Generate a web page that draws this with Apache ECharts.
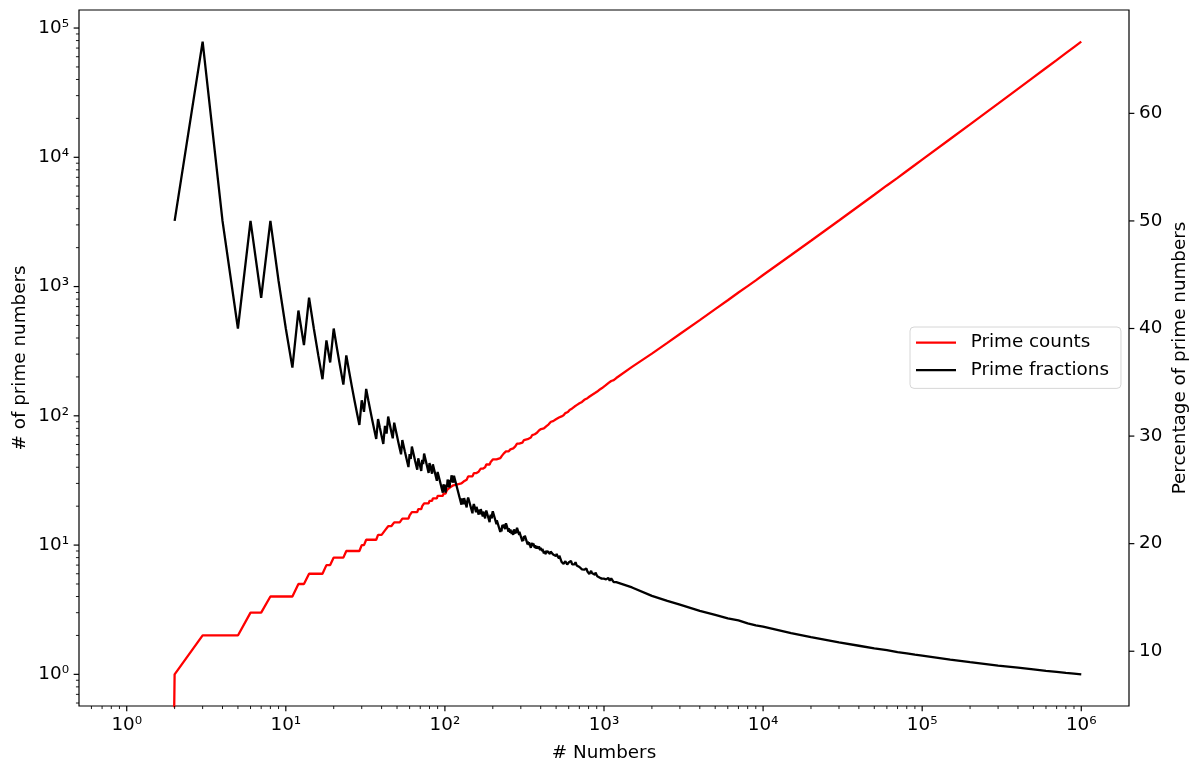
<!DOCTYPE html>
<html>
<head>
<meta charset="utf-8">
<script src="https://cdn.jsdelivr.net/npm/echarts@6/dist/echarts.min.js"></script>
<style>
html,body{margin:0;padding:0;background:#fff;}
#chart{width:1200px;height:773px;}
</style>
</head>
<body>
<div id="chart"></div>
<script>
// ---- Data ----
const nValues = [
  1,2,3,4,5,6,7,8,9,10,
  11,12,13,14,15,16,17,18,19,20,
  21,22,23,24,25,26,27,28,29,30,
  31,32,33,34,35,36,37,38,39,40,
  41,42,43,44,45,46,47,48,49,50,
  51,52,53,54,56,59,60,61,62,65,
  67,68,71,72,73,74,79,80,83,84,
  89,90,97,98,101,102,103,104,107,108,
  109,110,113,114,127,128,131,132,137,138,
  139,140,149,150,151,152,157,158,163,164,
  167,168,173,174,179,180,181,182,191,192,
  193,194,197,198,199,200,211,212,223,224,
  227,228,229,230,233,234,239,240,241,242,
  251,252,257,258,263,264,269,270,271,272,
  277,278,281,282,283,284,293,294,307,308,
  311,312,313,314,317,318,331,332,337,338,
  347,348,349,350,353,354,359,360,367,368,
  373,374,379,380,383,384,389,390,397,398,
  401,402,409,410,419,420,421,422,431,432,
  433,434,439,440,443,444,449,450,457,458,
  461,462,463,464,467,468,479,480,487,488,
  491,492,499,500,504,509,510,521,522,523,
  524,541,542,547,548,557,558,563,564,569,
  572,577,578,587,588,593,594,599,600,602,
  607,608,613,614,620,631,632,641,644,648,
  653,654,662,673,674,678,683,684,691,692,
  701,702,709,710,719,720,727,728,733,734,
  739,740,744,751,752,762,769,774,787,788,
  797,798,809,812,821,830,839,840,853,860,
  863,864,877,884,888,907,912,919,920,929,
  930,937,942,948,953,954,967,972,978,984,
  991,992,997,998,1000,1022,1031,1034,1049,1052,
  1064,1069,1070,1087,1094,1098,1110,1129,1130,1151,
  1154,1163,1164,1171,1172,1181,1194,1200,1500,2000,
  2500,3000,4000,5000,6000,7000,8000,9000,10000,15000,
  20000,30000,40000,50000,60000,70000,80000,90000,100000,150000,
  200000,300000,400000,500000,600000,700000,800000,900000,1000000
];
const primeCounts = [
  0,1,2,2,2,3,3,4,4,4,
  4,5,5,6,6,6,6,7,7,8,
  8,8,8,9,9,9,9,9,9,10,
  10,11,11,11,11,11,11,12,12,12,
  12,13,13,14,14,14,14,15,15,15,
  15,15,15,16,16,16,17,17,18,18,
  18,19,19,20,20,21,21,22,22,23,
  23,24,24,25,25,26,26,27,27,28,
  28,29,29,30,30,31,31,32,32,33,
  33,34,34,35,35,36,36,37,37,38,
  38,39,39,40,40,41,41,42,42,43,
  43,44,44,45,45,46,46,47,47,48,
  48,49,49,50,50,51,51,52,52,53,
  53,54,54,55,55,56,56,57,57,58,
  58,59,59,60,60,61,61,62,62,63,
  63,64,64,65,65,66,66,67,67,68,
  68,69,69,70,70,71,71,72,72,73,
  73,74,74,75,75,76,76,77,77,78,
  78,79,79,80,80,81,81,82,82,83,
  83,84,84,85,85,86,86,87,87,88,
  88,89,89,90,90,91,91,92,92,93,
  93,94,94,95,96,96,97,97,98,98,
  99,99,100,100,101,101,102,102,103,103,
  105,105,106,106,107,107,108,108,109,110,
  110,111,111,112,114,114,115,115,117,118,
  118,119,121,121,122,123,123,124,124,125,
  125,126,126,127,127,128,128,129,129,130,
  130,131,132,132,133,135,135,137,137,138,
  138,139,139,141,141,145,145,146,146,149,
  149,150,150,153,154,154,156,156,157,157,
  158,158,160,161,161,162,162,164,165,166,
  166,167,167,168,168,172,172,174,175,177,
  179,179,180,180,183,184,186,188,189,189,
  191,191,192,192,193,193,196,196,239,303,
  367,430,550,669,783,900,1007,1117,1229,1754,
  2262,3245,4203,5133,6057,6935,7837,8713,9592,13848,
  17984,25997,33860,41538,49098,56543,63951,71274,78498
];
const primeFractions = [
  null,50,66.67,50,40,50,42.86,50,44.44,40,
  36.36,41.67,38.46,42.86,40,37.5,35.29,38.89,36.84,40,
  38.10,36.36,34.78,37.5,36,34.62,33.33,32.14,31.03,33.33,
  32.26,34.38,33.33,32.35,31.43,30.56,29.73,31.58,30.77,30,
  29.27,30.95,30.23,31.82,31.11,30.43,29.79,31.25,30.61,30,
  29.41,28.85,28.30,29.63,28.57,27.12,28.33,27.87,29.03,27.69,
  26.87,27.94,26.76,27.78,27.40,28.38,26.58,27.5,26.51,27.38,
  25.84,26.67,24.74,25.51,24.75,25.49,25.24,25.96,25.23,25.93,
  25.69,26.36,25.66,26.32,23.62,24.22,23.66,24.24,23.36,23.91,
  23.74,24.29,22.82,23.33,23.18,23.68,22.93,23.42,22.70,23.17,
  22.75,23.21,22.54,22.99,22.35,22.78,22.65,23.08,21.99,22.40,
  22.28,22.68,22.34,22.73,22.61,23.00,21.80,22.17,21.08,21.43,
  21.15,21.49,21.40,21.74,21.46,21.79,21.34,21.67,21.58,21.90,
  21.12,21.43,21.01,21.32,20.91,21.21,20.82,21.11,21.03,21.32,
  20.94,21.22,21.00,21.28,21.20,21.48,20.82,21.09,20.20,20.45,
  20.26,20.51,20.45,20.70,20.50,20.75,19.94,20.18,19.88,20.12,
  19.60,19.83,19.77,20.00,19.83,20.06,19.78,20.00,19.62,19.84,
  19.57,19.79,19.53,19.74,19.58,19.79,19.54,19.74,19.40,19.60,
  19.45,19.65,19.32,19.51,19.09,19.29,19.24,19.43,19.03,19.21,
  19.17,19.35,19.13,19.32,19.19,19.37,19.15,19.33,19.04,19.21,
  19.09,19.26,19.22,19.40,19.27,19.44,19.00,19.17,18.89,19.06,
  18.94,19.11,18.84,19.00,19.05,18.86,19.02,18.62,18.77,18.74,
  18.89,18.30,18.45,18.28,18.43,18.13,18.28,18.12,18.26,18.10,
  18.36,18.20,18.34,18.06,18.20,18.04,18.18,18.03,18.17,18.27,
  18.12,18.26,18.11,18.24,18.39,18.07,18.20,17.94,18.17,18.21,
  18.07,18.20,18.28,17.98,18.10,18.14,18.01,18.13,17.95,18.06,
  17.83,17.95,17.77,17.89,17.66,17.78,17.61,17.72,17.60,17.71,
  17.59,17.70,17.74,17.58,17.69,17.72,17.56,17.70,17.41,17.51,
  17.31,17.42,17.18,17.36,17.17,17.47,17.28,17.38,17.12,17.33,
  17.27,17.36,17.10,17.31,17.34,16.98,17.11,16.97,17.07,16.90,
  16.99,16.86,16.99,16.98,16.89,16.98,16.75,16.87,16.87,16.87,
  16.75,16.83,16.75,16.83,16.80,16.83,16.68,16.83,16.68,16.83,
  16.82,16.74,16.82,16.56,16.73,16.76,16.76,16.65,16.73,16.42,
  16.55,16.42,16.49,16.40,16.47,16.34,16.42,16.33,15.93,15.15,
  14.68,14.33,13.75,13.38,13.05,12.86,12.59,12.41,12.29,11.69,
  11.31,10.82,10.51,10.27,10.10,9.91,9.80,9.68,9.59,9.23,
  8.99,8.67,8.47,8.31,8.18,8.08,7.99,7.92,7.85
];

// ---- Ticks and tick labels ----
const xMajorTicks = [1,10,100,1000,10000,100000,1000000];
const xTickLabels = ['10\u2070','10\u00b9','10\u00b2','10\u00b3','10\u2074','10\u2075','10\u2076'];
const xMinorTicks = [0.6,0.7,0.8,0.9,
  2,3,4,5,6,7,8,9,
  20,30,40,50,60,70,80,90,
  200,300,400,500,600,700,800,900,
  2000,3000,4000,5000,6000,7000,8000,9000,
  20000,30000,40000,50000,60000,70000,80000,90000,
  200000,300000,400000,500000,600000,700000,800000,900000];
const yLeftMajorTicks = [1,10,100,1000,10000,100000];
const yLeftTickLabels = ['10\u2070','10\u00b9','10\u00b2','10\u00b3','10\u2074','10\u2075'];
const yLeftMinorTicks = [0.6,0.7,0.8,0.9,
  2,3,4,5,6,7,8,9,
  20,30,40,50,60,70,80,90,
  200,300,400,500,600,700,800,900,
  2000,3000,4000,5000,6000,7000,8000,9000,
  20000,30000,40000,50000,60000,70000,80000,90000];
const yRightTicks = [10,20,30,40,50,60];
const yRightTickLabels = ['10','20','30','40','50','60'];

const seriesNames = ['Prime counts', 'Prime fractions'];
const axisNames = ['# Numbers', '# of prime numbers', 'Percentage of prime numbers'];

// ---- Axis extents (matplotlib 5% margins) ----
const X_MIN = 0.50119, X_MAX = 1995262;
const YL_MIN = 0.569, YL_MAX = 137900;
const YR_MIN = 4.909, YR_MAX = 69.608;
const LOG_FLOOR = 1e-30; // zero count is clipped like a log plot does

const FONT = 'DejaVu Sans';
const FS = 18.33;

const countData = nValues.map((n, i) => [n, primeCounts[i] > 0 ? primeCounts[i] : LOG_FLOOR]);
const fractionData = nValues.map((n, i) => [n, primeFractions[i]]);

function findLabel(ticks, labels, v) {
  const i = ticks.findIndex(t => Math.abs(t - v) <= Math.abs(t) * 1e-6);
  return i >= 0 ? labels[i] : '';
}

function tickSeries(data, yAxisIndex, dir, len, w) {
  return {
    type: 'custom', xAxisIndex: 0, yAxisIndex: yAxisIndex, silent: true, clip: false, z: 10,
    animation: false,
    data: data,
    encode: {x: 0, y: 1},
    renderItem: function (params, api) {
      const p = api.coord([api.value(0), api.value(1)]);
      let dx = 0, dy = 0;
      if (dir === 'down') dy = len;
      else if (dir === 'left') dx = -len;
      else dx = len;
      return {
        type: 'line',
        shape: {x1: p[0], y1: p[1], x2: p[0] + dx, y2: p[1] + dy},
        style: {stroke: '#000', lineWidth: w}
      };
    }
  };
}

const chart = echarts.init(document.getElementById('chart'), null, {renderer: 'canvas'});

const option = {
  animation: false,
  backgroundColor: '#ffffff',
  textStyle: {fontFamily: FONT},
  grid: {
    left: 79, right: 71, top: 10, bottom: 67,
    containLabel: false,
    outerBoundsMode: 'none',
    show: true, borderColor: '#000', borderWidth: 1.2, backgroundColor: 'transparent'
  },
  legend: {
    orient: 'vertical', left: 910, top: 327,
    data: [{name: seriesNames[0], icon: 'rect'}, {name: seriesNames[1], icon: 'rect'}],
    itemWidth: 40, itemHeight: 2.3, itemGap: 9.2,
    textStyle: {fontFamily: FONT, fontSize: FS, color: '#000', padding: [0, 0, 0, 9.7], lineHeight: 18.33},
    padding: [6.5, 12, 9, 6],
    borderColor: '#d6d6d6', borderWidth: 1, borderRadius: 4,
    backgroundColor: 'rgba(255,255,255,0.8)',
    selectedMode: false
  },
  xAxis: [{
    type: 'log', logBase: 10, min: X_MIN, max: X_MAX,
    name: axisNames[0], nameLocation: 'middle', nameGap: 38, nameMoveOverlap: false,
    nameTextStyle: {fontFamily: FONT, fontSize: FS, color: '#000'},
    axisLine: {show: false}, axisTick: {show: false}, minorTick: {show: false},
    splitLine: {show: false}, minorSplitLine: {show: false},
    axisLabel: {
      show: true, margin: 10, color: '#000', fontFamily: FONT, fontSize: FS,
      showMinLabel: false, showMaxLabel: false, hideOverlap: false,
      formatter: v => findLabel(xMajorTicks, xTickLabels, v)
    }
  }],
  yAxis: [{
    type: 'log', logBase: 10, min: YL_MIN, max: YL_MAX, position: 'left',
    name: axisNames[1], nameLocation: 'middle', nameGap: 50, nameRotate: 90, nameMoveOverlap: false,
    nameTextStyle: {fontFamily: FONT, fontSize: FS, color: '#000'},
    axisLine: {show: false}, axisTick: {show: false}, minorTick: {show: false},
    splitLine: {show: false}, minorSplitLine: {show: false},
    axisLabel: {
      show: true, margin: 10, color: '#000', fontFamily: FONT, fontSize: FS,
      showMinLabel: false, showMaxLabel: false, hideOverlap: false,
      formatter: v => findLabel(yLeftMajorTicks, yLeftTickLabels, v)
    }
  }, {
    type: 'value', min: YR_MIN, max: YR_MAX, position: 'right',
    name: axisNames[2], nameLocation: 'middle', nameGap: 42, nameRotate: 90, nameMoveOverlap: false,
    nameTextStyle: {fontFamily: FONT, fontSize: FS, color: '#000'},
    axisLine: {show: false}, axisTick: {show: false},
    splitLine: {show: false},
    axisLabel: {
      show: true, margin: 10, color: '#000', fontFamily: FONT, fontSize: FS,
      showMinLabel: false, showMaxLabel: false, hideOverlap: false,
      formatter: v => findLabel(yRightTicks, yRightTickLabels, v)
    }
  }],
  series: [
    {
      name: seriesNames[0], type: 'line', xAxisIndex: 0, yAxisIndex: 0,
      data: countData, symbol: 'none', showSymbol: false, clip: true,
      color: '#ff0000', itemStyle: {color: '#ff0000'},
      lineStyle: {color: '#ff0000', width: 2.3}, z: 3
    },
    {
      name: seriesNames[1], type: 'line', xAxisIndex: 0, yAxisIndex: 1,
      data: fractionData, symbol: 'none', showSymbol: false, clip: true, connectNulls: false,
      color: '#000000', itemStyle: {color: '#000000'},
      lineStyle: {color: '#000000', width: 2.3}, z: 4
    },
    tickSeries(xMajorTicks.map(v => [v, YL_MIN]), 0, 'down', 5.35, 1.2),
    tickSeries(xMinorTicks.map(v => [v, YL_MIN]), 0, 'down', 3.06, 0.9),
    tickSeries(yLeftMajorTicks.map(v => [X_MIN, v]), 0, 'left', 5.35, 1.2),
    tickSeries(yLeftMinorTicks.map(v => [X_MIN, v]), 0, 'left', 3.06, 0.9),
    tickSeries(yRightTicks.map(v => [X_MAX, v]), 1, 'right', 5.35, 1.2)
  ]
};

chart.setOption(option);
</script>
</body>
</html>
